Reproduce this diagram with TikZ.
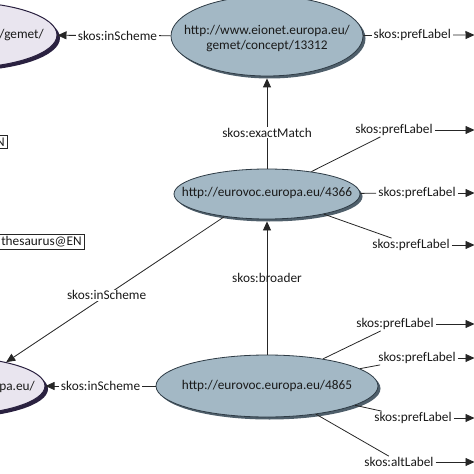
\documentclass[tikz,border=0pt]{standalone}
\usepackage{fontspec}
\setmainfont{Carlito}
\usetikzlibrary{shapes.geometric,arrows.meta,shadows}
\definecolor{ellfill}{HTML}{A3B8C5}
\definecolor{ellborder}{HTML}{2E3B45}
\definecolor{ellshadow}{HTML}{4F5F6B}
\definecolor{schemefill}{HTML}{E9E5EF}
\definecolor{schemeborder}{HTML}{2A2140}
\definecolor{linecol}{HTML}{262626}
\definecolor{txtcol}{HTML}{1A1A1A}
\begin{document}
\begin{tikzpicture}[x=1bp,y=-1bp,
  every node/.style={font=\fontsize{13.3bp}{15bp}\selectfont, text=txtcol},
  concept/.style={ellipse, draw=ellborder, line width=0.8bp, fill=ellfill, inner sep=0pt,
    drop shadow={shadow xshift=2.5bp, shadow yshift=-2.5bp, fill=ellshadow, opacity=1}},
  scheme/.style={ellipse, draw=schemeborder, line width=1bp, fill=schemefill, inner sep=0pt,
    drop shadow={shadow xshift=3bp, shadow yshift=-3bp, fill=schemeborder, opacity=1}},
  ctext/.style={align=center, inner sep=0pt},
  lbl/.style={fill=white, inner xsep=2bp, inner ysep=1bp},
  lblplain/.style={inner xsep=2bp, inner ysep=1bp},
  conn/.style={draw=linecol, line width=0.8bp},
  arr/.style={conn, -{Triangle[length=9bp,width=8bp]}},
  litbox/.style={draw=linecol, line width=0.6bp, fill=white, align=right, inner xsep=3bp, inner ysep=2bp}
]
\useasboundingbox (0,0) rectangle (474,474);
\clip (0,0) rectangle (474,474);

% ellipses
\node[scheme, minimum width=194bp, minimum height=66bp] (TL) at (-40,35) {};
\node[ctext, anchor=east] (TLtxt) at (44,35) {/gemet/};
\node[scheme, minimum width=190bp, minimum height=58bp] (BL) at (-50,386) {};
\node[ctext, anchor=east] (BLtxt) at (35,387) {pa.eu/};

\node[concept, minimum width=192bp, minimum height=80bp] (T) at (267,36) {};
\node[ctext] (Ttxt) at (267,39) {http://www.eionet.europa.eu/\\gemet/concept/13312};
\node[concept, minimum width=186bp, minimum height=50bp] (M) at (267,194) {};
\node[ctext] (Mtxt) at (267,193) {http://eurovoc.europa.eu/4366};
\node[concept, minimum width=222bp, minimum height=62bp] (B) at (267,386) {};
\node[ctext] (Btxt) at (267,386) {http://eurovoc.europa.eu/4865};

% literal boxes (cut off at left)
\node[litbox, anchor=east, text width=30bp] (litN) at (8,142) {N};
\node[litbox, anchor=east, text width=120bp] (litThes) at (85,241.5) {thesaurus@EN};

% literal targets (off picture)
\coordinate (lit0) at (474.5,35);
\coordinate (lit1) at (474.5,130);
\coordinate (lit2) at (474.5,193);
\coordinate (lit3) at (474.5,245);
\coordinate (lit4) at (474.5,324);
\coordinate (lit5) at (474.5,358);
\coordinate (lit6) at (474.5,418);
\coordinate (lit7) at (474.5,462);

% label nodes
\node[lbl] (L1) at (394,130) {skos:prefLabel};
\node[lbl] (L2) at (417,193) {skos:prefLabel};
\node[lbl] (L3) at (411,245) {skos:prefLabel};
\node[lbl] (L4) at (395,324) {skos:prefLabel};
\node[lbl] (L5) at (417,358) {skos:prefLabel};
\node[lbl] (L6) at (413,418) {skos:prefLabel};
\node[lbl] (L7) at (399,462) {skos:altLabel};

% connectors
\draw[arr] (T) -- node[lbl, pos=0.47] (eT1) {skos:inScheme} (TL);
\draw[arr] (T) -- node[lbl, pos=0.44] (eT2) {skos:prefLabel} (lit0);
\draw[arr, shorten >=2bp] (M) -- node[lbl, pos=0.39] (eM1) {skos:exactMatch} (T);
\draw[conn] (M) -- (L1);
\draw[arr] (L1) -- (lit1);
\draw[conn] (M) -- (L2);
\draw[arr] (L2) -- (lit2);
\draw[conn] (M) -- (L3);
\draw[arr] (L3) -- (lit3);
\draw[arr] (M.208.6) -- node[lbl, pos=0.54] (eM2) {skos:inScheme} (BL.23.6);
\draw[arr, shorten >=2bp] (B) -- node[lblplain, pos=0.57] (eB1) {skos:broader} (M);
\draw[arr] (B) -- node[lbl, pos=0.5] (eB2) {skos:inScheme} (BL);
\draw[conn] (B) -- (L4);
\draw[arr] (L4) -- (lit4);
\draw[conn] (B) -- (L5);
\draw[arr] (L5) -- (lit5);
\draw[conn] (B) -- (L6);
\draw[arr] (L6) -- (lit6);
\draw[conn] (B) -- (L7);
\draw[arr] (L7) -- (lit7);
\end{tikzpicture}
\end{document}
